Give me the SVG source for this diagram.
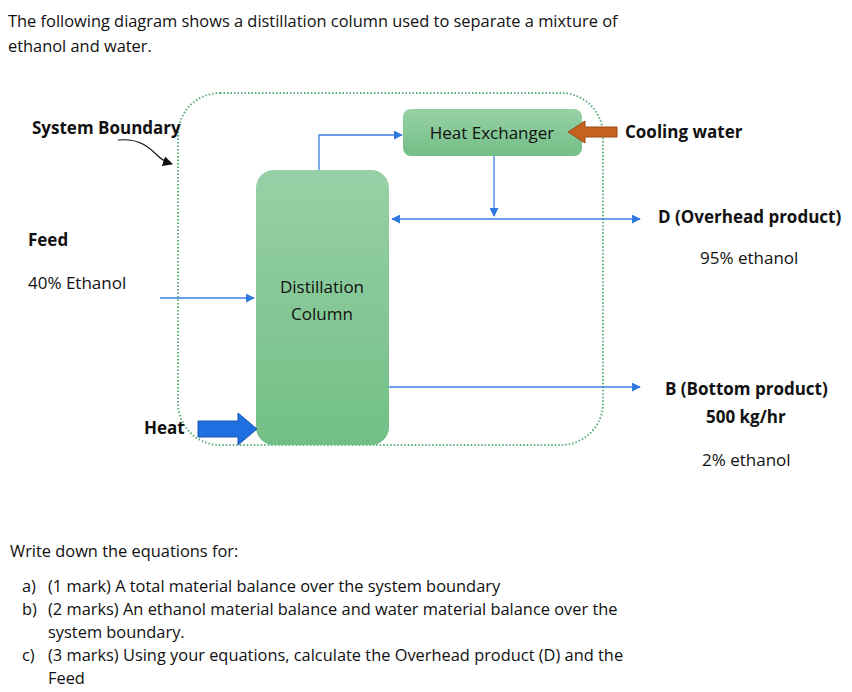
<svg xmlns="http://www.w3.org/2000/svg" width="852" height="692" viewBox="0 0 852 692">
<defs>
<style>
text{font-family:"Open Sans","Noto Sans",sans-serif;font-size:16.4px;fill:#111}
.b{font-weight:bold}
.d{font-size:17px}
.ln{stroke:#3b7fe0;stroke-width:1.3;fill:none}
</style>
<linearGradient id="g" x1="0" y1="0" x2="0" y2="1"><stop offset="0" stop-color="#98d0a6"/><stop offset="1" stop-color="#72bf86"/></linearGradient>
<marker id="a" viewBox="0 0 10 10" refX="9" refY="5" markerWidth="9" markerHeight="9" orient="auto" markerUnits="userSpaceOnUse"><path d="M0,0L10,5L0,10z" fill="#2f78e0"/></marker>
<marker id="k" viewBox="0 0 10 10" refX="9" refY="5" markerWidth="10" markerHeight="10" orient="auto" markerUnits="userSpaceOnUse"><path d="M0,0L10,5L0,10z" fill="#111"/></marker>
</defs>
<rect width="852" height="692" fill="#fff"/>
<text x="8" y="27">The following diagram shows a distillation column used to separate a mixture of</text>
<text x="8" y="52">ethanol and water.</text>
<rect x="178" y="93" width="425" height="352" rx="42" fill="none" stroke="#5fb07a" stroke-width="2" stroke-dasharray="1.5 2"/>
<g id="column"><rect x="256" y="170" width="133" height="275" rx="18" fill="url(#g)"/><text class="d" x="322" y="293" text-anchor="middle">Distillation</text><text class="d" x="322" y="320" text-anchor="middle">Column</text></g>
<g id="hx"><rect x="403" y="109" width="179" height="47" rx="8" fill="url(#g)"/><text class="d" x="492" y="139" text-anchor="middle">Heat Exchanger</text></g>
<g id="connectors">
<path class="ln" d="M319,170V135H402" marker-end="url(#a)"/>
<path class="ln" d="M494,156V216" marker-end="url(#a)"/>
<path class="ln" d="M600,219H392" marker-end="url(#a)"/>
<path class="ln" d="M600,219H640" marker-end="url(#a)"/>
<path class="ln" d="M160,298H254" marker-end="url(#a)"/>
<path class="ln" d="M389,387H640" marker-end="url(#a)"/>
<path d="M198,421H238V413L257,429L238,445V437H198Z" fill="#1f6fe0" stroke="#1a55b0"/>
<path d="M617,127H585V121L568,132L585,143V137H617Z" fill="#c4621f" stroke="#9a4a15"/>
<path d="M118,140C140,138 150,148 158,156C162,160 166,162 172,164" fill="none" stroke="#111" stroke-width="1.2" marker-end="url(#k)"/>
</g>
<text class="b d" x="32" y="134">System Boundary</text>
<text class="b d" x="625" y="138">Cooling water</text>
<text class="b d" x="658" y="223">D (Overhead product)</text>
<text class="d" x="700" y="264">95% ethanol</text>
<text class="b d" x="28" y="246">Feed</text>
<text class="d" x="28" y="289">40% Ethanol</text>
<text class="b d" x="665" y="395">B (Bottom product)</text>
<text class="b d" x="706" y="423">500 kg/hr</text>
<text class="d" x="702" y="466">2% ethanol</text>
<text class="b d" x="144" y="434">Heat</text>
<text x="10" y="557">Write down the equations for:</text>
<text x="22" y="592">a)</text><text x="48" y="592">(1 mark) A total material balance over the system boundary</text>
<text x="22" y="615">b)</text><text x="48" y="615">(2 marks) An ethanol material balance and water material balance over the</text>
<text x="48" y="638">system boundary.</text>
<text x="22" y="661">c)</text><text x="48" y="661">(3 marks) Using your equations, calculate the Overhead product (D) and the</text>
<text x="48" y="684">Feed</text>
</svg>
